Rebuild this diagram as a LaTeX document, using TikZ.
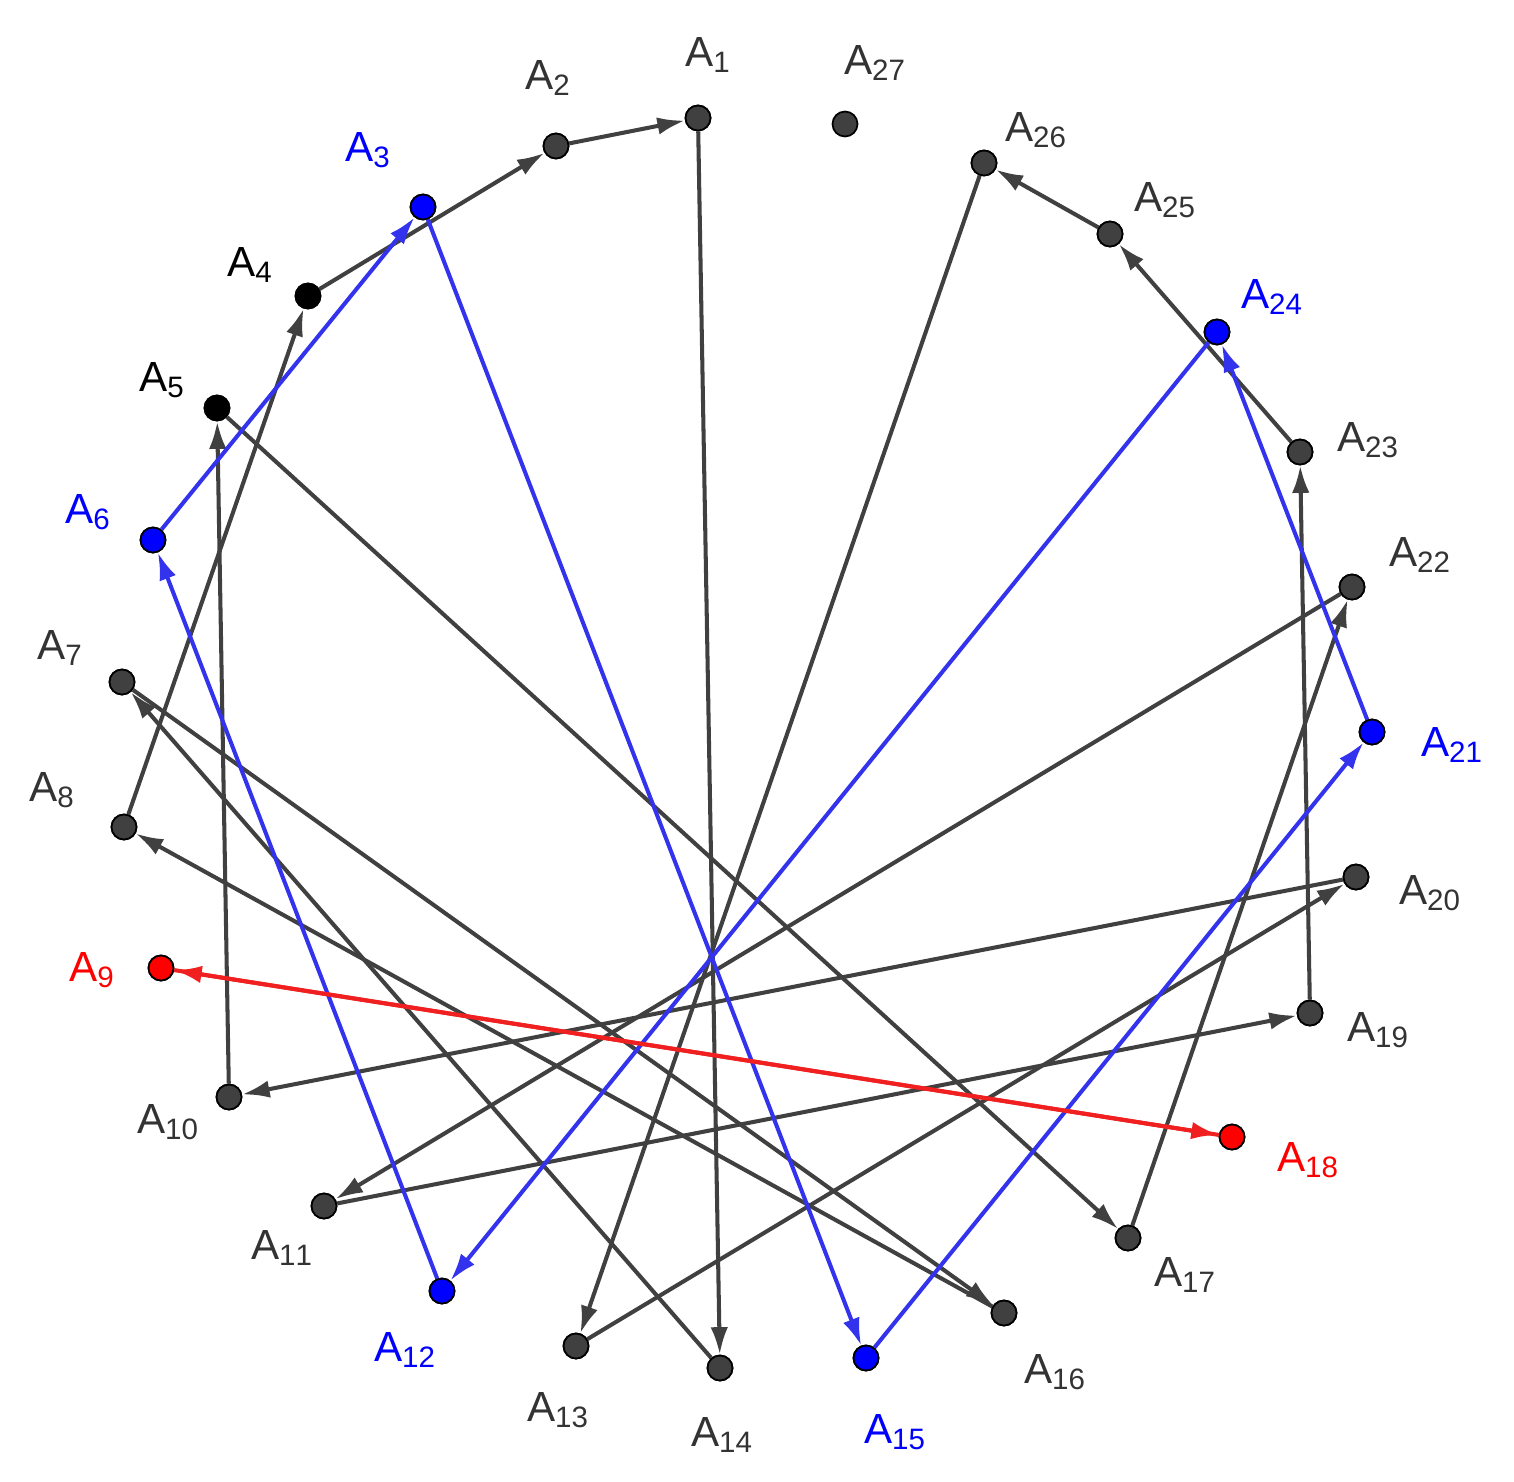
\documentclass[tikz,border=0pt]{standalone}
\usepackage{fontspec}
\setmainfont{Liberation Sans}
\usetikzlibrary{arrows.meta}
\definecolor{eg}{HTML}{404040}
\definecolor{lg}{HTML}{333333}
\definecolor{eb}{HTML}{3333EE}
\definecolor{er}{HTML}{F02020}
\tikzset{
 pt/.style={circle,draw=black,line width=1pt,inner sep=0pt,minimum size=0.5cm,fill=#1},
 lab/.style={text=#1,font=\fontsize{24}{28}\selectfont,inner sep=0pt},
 ed/.style={line width=2.3pt,draw=#1,-{Latex[length=0.55cm,width=0.35cm]}},
}
\begin{document}
\begin{tikzpicture}[x=0.02cm,y=-0.02cm]
\useasboundingbox (0,0) rectangle (1514,1481);
\foreach \n/\x/\y/\c/\lx/\ly/\lc in {
1/698/118/eg/708/55/lg, 2/556/146/eg/548/78/lg, 3/423/207/blue/368/150/blue,
4/308/296/black/250/265/black, 5/217/408/black/162/380/black, 6/153/540/blue/88/512/blue,
7/122/682/eg/60/648/lg, 8/124/827/eg/52/790/lg, 9/161/968/red/92/970/red,
10/229/1097/eg/168/1122/lg, 11/324/1206/eg/282/1248/lg, 12/442/1291/blue/405/1350/blue,
13/576/1346/eg/558/1410/lg, 14/720/1368/eg/722/1435/lg, 15/866/1358/blue/895/1432/blue,
16/1004/1313/eg/1055/1372/lg, 17/1128/1238/eg/1185/1275/lg, 18/1232/1137/red/1308/1160/red,
19/1310/1013/eg/1378/1030/lg, 20/1356/877/eg/1430/893/lg, 21/1372/732/blue/1452/745/blue,
22/1352/587/eg/1420/555/lg, 23/1300/452/eg/1368/440/lg, 24/1217/332/blue/1272/297/blue,
25/1110/234/eg/1165/200/lg, 26/984/163/eg/1036/130/lg, 27/845/124/eg/875/63/lg}{
 \node[pt=\c] (A\n) at (\x,\y) {};
 \node[lab=\lc] (L\n) at (\lx,\ly) {A$_{\mathrm{\n}}$};
}
\foreach \a/\b in {1/14,14/7,7/16,16/8,8/4,4/2,2/1,10/5,5/17,17/22,22/11,11/19,19/23,23/25,25/26,26/13,13/20,20/10}
 \draw[ed=eg] (A\a) -- (A\b);
\foreach \a/\b in {12/6,6/3,3/15,15/21,21/24,24/12}
 \draw[ed=eb] (A\a) -- (A\b);
\draw[ed=er] (A18) -- (A9);
\draw[ed=er] (A9) -- (A18);
\foreach \n/\c in {1/eg,2/eg,3/blue,4/black,5/black,6/blue,7/eg,8/eg,9/red,10/eg,11/eg,12/blue,13/eg,14/eg,15/blue,16/eg,17/eg,18/red,19/eg,20/eg,21/blue,22/eg,23/eg,24/blue,25/eg,26/eg}
 \node[pt=\c] at (A\n) {};
\end{tikzpicture}
\end{document}
